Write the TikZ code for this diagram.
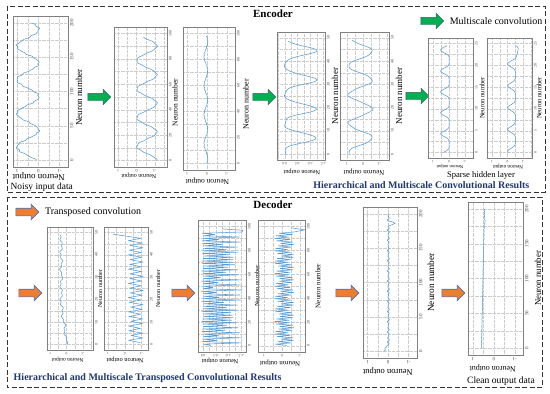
\documentclass[tikz,border=0pt]{standalone}
\usepackage{fontspec}
\setmainfont{Liberation Serif}
\usetikzlibrary{shapes.arrows,positioning}
\definecolor{curveblue}{RGB}{88,156,212}
\definecolor{arrowgreen}{RGB}{0,176,80}
\definecolor{arroworange}{RGB}{237,125,49}
\definecolor{edgeblue}{RGB}{68,114,196}
\definecolor{edgegray}{RGB}{70,90,110}
\definecolor{navy}{RGB}{31,56,110}

\begin{document}
\begin{tikzpicture}[x=1pt, y=-1pt,
    ttl/.style={font=\fontsize{11}{11}\selectfont\bfseries, inner sep=0.5pt},
    res/.style={font=\fontsize{10}{10}\selectfont\bfseries, text=navy, inner sep=0.5pt},
    txt/.style={font=\fontsize{#1}{#1}\selectfont, inner sep=0.5pt},
    ax/.style={font=\fontsize{#1}{#1}\selectfont, inner sep=0pt},
    tk/.style={font=\fontsize{#1}{#1}\selectfont, text=black!70, inner sep=0.3pt},
    frm/.style={draw=black!50, line width=0.4pt},
    grd/.style={draw=black!20, line width=0.3pt, densely dotted},
    crv/.style={draw=curveblue, line width=0.55pt, line join=round},
    dbox/.style={draw=black!80, line width=0.9pt, dash pattern=on 5pt off 2.5pt},
    garrow/.style={single arrow, draw=edgegray, fill=arrowgreen, line width=0.4pt,
                   minimum height=23pt, inner sep=3.5pt, single arrow head extend=4pt},
    oarrow/.style={single arrow, draw=edgeblue, fill=arroworange, line width=0.6pt,
                   minimum height=23pt, inner sep=3.5pt, single arrow head extend=4pt},
  ]
  \useasboundingbox (0,0) rectangle (550,394);
  \fill[white] (0,0) rectangle (550,394);

  % frames of the two stages
  \draw[dbox] (7,6) rectangle (545,192);
  \draw[dbox] (7,197) rectangle (542,387);
  \node[ttl] (enc) at (273,14) {Encoder};
  \node[ttl] (dec) at (273,205) {Decoder};

  % legends
  \node[garrow] (leggreen) at (430.5,21) {};
  \node[txt=10, right=5pt of leggreen] (legmulti) {Multiscale convolution};
  \node[oarrow] (legorange) at (25.5,212) {};
  \node[txt=10, right=5pt of legorange] (legtrans) {Transposed convolution};

  % encoder arrows
  \node[garrow] (g1) at (97.5,97) {};
  \node[garrow] (g2) at (262.5,97) {};
  \node[garrow] (g3) at (415.5,96) {};
  % decoder arrows
  \node[oarrow] (o1) at (28.5,293) {};
  \node[oarrow] (o2) at (181.5,293) {};
  \node[oarrow] (o3) at (345.5,293) {};
  \node[oarrow] (o4) at (451.5,293) {};

  % ---------- encoder panels ----------
  % noisy input
  \begin{scope}[shift={(13,167)}, x={(55pt,0pt)}, y={(0pt,151pt)}]
    \foreach \k in {0,0.5,...,4} \draw[grd] (0,{0.0455+0.2273*\k}) -- (1,{0.0455+0.2273*\k});
    \foreach \u in {0.075,0.2675,0.46,0.6525,0.845} \draw[grd] (\u,0) -- (\u,1);
    \draw[frm] (0,0) rectangle (1,1);
    \draw[crv] plot[domain=0:200, samples=181, variable=\t]
      ({0.27-0.2*cos((\t-19)/49*360)+0.012*sin(53*\t)+0.01*sin(79*\t)}, {0.0455+0.909*\t/200});
    \foreach \v [count=\c from 0] in {0,50,100,150,200}
      \node[tk=5, rotate=90, anchor=north] at ([xshift=1.5pt]1,{0.0455+0.2273*\c}) {\v};
    \foreach \v/\u in {1/0.075,0/0.46,-1/0.845}
      \node[tk=5, rotate=180, anchor=south] at ([yshift=-1.5pt]\u,0) {\v};
    \node[ax=9, rotate=90] (p1num) at ([xshift=11pt]1,0.46) {Neuron number};
    \node[ax=9, rotate=180] (p1out) at ([yshift=-9.5pt]0.47,0) {Neuron output};
  \end{scope}
  \node[txt=9.4, anchor=west] (noisy) at (10,187.5) {Noisy input data};

  % first layer, scale a
  \begin{scope}[shift={(114,167)}, x={(53pt,0pt)}, y={(0pt,140pt)}]
    \foreach \k in {0,0.5,...,5} \draw[grd] (0,{0.0455+0.1818*\k}) -- (1,{0.0455+0.1818*\k});
    \foreach \u in {0.08,0.2525,0.425,0.5975,0.77,0.9425} \draw[grd] (\u,0) -- (\u,1);
    \draw[frm] (0,0) rectangle (1,1);
    \draw[crv] plot[domain=0:97, samples=120, variable=\t]
      ({0.62+0.19*cos(\t/22.5*360)+0.01*sin(97*\t)}, {0.0455+0.909*\t/100});
    \foreach \v [count=\c from 0] in {0,20,40,60,80,100}
      \node[tk=4, rotate=90, anchor=north] at ([xshift=1.5pt]1,{0.0455+0.1818*\c}) {\v};
    \foreach \v/\u in {1/0.08,0/0.425,-1/0.77}
      \node[tk=4, rotate=180, anchor=south] at ([yshift=-1.5pt]\u,0) {\v};
    \node[ax=7.5, rotate=90] (p2num) at ([xshift=8pt]1,0.46) {Neuron number};
    \node[ax=6, rotate=180] (p2out) at ([yshift=-9pt]0.47,0) {Neuron output};
  \end{scope}

  % first layer, scale b
  \begin{scope}[shift={(183,170)}, x={(52pt,0pt)}, y={(0pt,143pt)}]
    \foreach \k in {0,0.5,...,5} \draw[grd] (0,{0.0455+0.1818*\k}) -- (1,{0.0455+0.1818*\k});
    \foreach \u in {0.08,0.27,0.46,0.65,0.84} \draw[grd] (\u,0) -- (\u,1);
    \draw[frm] (0,0) rectangle (1,1);
    \draw[crv] plot[domain=0:98, samples=120, variable=\t]
      ({0.44+0.035*sin(\t/22.5*360+30)+0.006*sin(131*\t)}, {0.0455+0.909*\t/100});
    \foreach \v [count=\c from 0] in {0,20,40,60,80,100}
      \node[tk=4, rotate=90, anchor=north] at ([xshift=1.5pt]1,{0.0455+0.1818*\c}) {\v};
    \foreach \v/\u in {1/0.08,0/0.46,-1/0.84}
      \node[tk=4, rotate=180, anchor=south] at ([yshift=-1.5pt]\u,0) {\v};
    \node[ax=8, rotate=90] (p3num) at ([xshift=11pt]1,0.46) {Neuron number};
    \node[ax=7.5, rotate=180] (p3out) at ([yshift=-11pt]0.47,0) {Neuron output};
  \end{scope}

  % second layer, scale a
  \begin{scope}[shift={(277,160)}, x={(48pt,0pt)}, y={(0pt,128pt)}]
    \foreach \k in {0,0.5,...,5} \draw[grd] (0,{0.0455+0.1818*\k}) -- (1,{0.0455+0.1818*\k});
    \foreach \u in {0.025,0.16,0.295,0.43,0.565,0.70,0.835,0.97} \draw[grd] (\u,0) -- (\u,1);
    \draw[frm] (0,0) rectangle (1,1);
    \draw[crv] plot[domain=0:48.6, samples=150, variable=\t]
      ({0.17+0.65*(0.5+0.5*cos((\t-7)/12.5*360))^2+0.015*sin(83*\t)}, {0.0455+0.909*\t/50});
    \foreach \v [count=\c from 0] in {0,10,20,30,40,50}
      \node[tk=4, rotate=90, anchor=north] at ([xshift=1.5pt]1,{0.0455+0.1818*\c}) {\v};
    \foreach \v/\u in {0.0/0.16,-0.5/0.43,-1.0/0.70,-1.5/0.97}
      \node[tk=3.5, rotate=180, anchor=south] at ([yshift=-1.5pt]\u,0) {\v};
    \node[ax=9, rotate=90] (p4num) at ([xshift=10pt]1,0.5) {Neuron number};
    \node[ax=6.3, rotate=180] (p4out) at ([yshift=-12pt]0.52,0) {Neuron output};
  \end{scope}

  % second layer, scale b
  \begin{scope}[shift={(340,160)}, x={(49pt,0pt)}, y={(0pt,128pt)}]
    \foreach \k in {0,0.5,...,5} \draw[grd] (0,{0.0455+0.1818*\k}) -- (1,{0.0455+0.1818*\k});
    \foreach \u in {0.14,0.305,0.47,0.635,0.80,0.965} \draw[grd] (\u,0) -- (\u,1);
    \draw[frm] (0,0) rectangle (1,1);
    \draw[crv] plot[domain=0:49, samples=150, variable=\t]
      ({0.17+0.49*(0.5+0.5*cos((\t-7)/12.4*360))+0.015*sin(97*\t)}, {0.0455+0.909*\t/50});
    \foreach \v [count=\c from 0] in {0,10,20,30,40,50}
      \node[tk=4, rotate=90, anchor=north] at ([xshift=1.5pt]1,{0.0455+0.1818*\c}) {\v};
    \foreach \v/\u in {1/0.14,0/0.47,-1/0.80}
      \node[tk=4, rotate=180, anchor=south] at ([yshift=-1.5pt]\u,0) {\v};
    \node[ax=9, rotate=90] (p5num) at ([xshift=10pt]1,0.5) {Neuron number};
    \node[ax=7, rotate=180] (p5out) at ([yshift=-12pt]0.49,0) {Neuron output};
  \end{scope}

  % sparse hidden layer, scale a
  \begin{scope}[shift={(428,158)}, x={(45pt,0pt)}, y={(0pt,120pt)}]
    \foreach \k in {0,0.5,...,5} \draw[grd] (0,{0.0455+0.1818*\k}) -- (1,{0.0455+0.1818*\k});
    \foreach \u in {0.11,0.2875,0.465,0.6425,0.82} \draw[grd] (\u,0) -- (\u,1);
    \draw[frm] (0,0) rectangle (1,1);
    \draw[crv] plot[domain=0:24.5, samples=150, variable=\t]
      ({0.47-0.19*(0.5+0.5*cos((\t-4.3)/4.8*360))^3}, {0.0455+0.909*\t/25});
    \foreach \v [count=\c from 0] in {0,5,10,15,20,25}
      \node[tk=4, rotate=90, anchor=north] at ([xshift=1.5pt]1,{0.0455+0.1818*\c}) {\v};
    \foreach \v/\u in {1/0.11,0/0.465,-1/0.82}
      \node[tk=3.5, rotate=180, anchor=south] at ([yshift=-1.5pt]\u,0) {\v};
    \node[ax=6.6, rotate=90] (p6num) at ([xshift=9pt]1,0.5) {Neuron number};
    \node[ax=4.6, rotate=180] (p6out) at ([yshift=-9pt]0.49,0) {Neuron output};
  \end{scope}

  % sparse hidden layer, scale b
  \begin{scope}[shift={(487,158)}, x={(45pt,0pt)}, y={(0pt,120pt)}]
    \foreach \k in {0,0.5,...,5} \draw[grd] (0,{0.0455+0.1818*\k}) -- (1,{0.0455+0.1818*\k});
    \foreach \u in {0.11,0.2825,0.455,0.6275,0.80,0.9725} \draw[grd] (\u,0) -- (\u,1);
    \draw[frm] (0,0) rectangle (1,1);
    \draw[crv] plot[domain=0:24.5, samples=150, variable=\t]
      ({0.63-0.17*(0.5+0.5*cos((\t-5.3)/5*360))^3+0.025*(\t>21)*(\t-21)}, {0.0455+0.909*\t/25});
    \foreach \v [count=\c from 0] in {0,5,10,15,20,25}
      \node[tk=4, rotate=90, anchor=north] at ([xshift=1.5pt]1,{0.0455+0.1818*\c}) {\v};
    \foreach \v/\u in {1/0.11,0/0.455,-1/0.80}
      \node[tk=3.5, rotate=180, anchor=south] at ([yshift=-1.5pt]\u,0) {\v};
    \node[ax=6.6, rotate=90] (p7num) at ([xshift=7pt]1,0.5) {Neuron number};
    \node[ax=5.2, rotate=180] (p7out) at ([yshift=-9pt]0.47,0) {Neuron output};
  \end{scope}
  \node[txt=8.6] (sparse) at (481,175) {Sparse hidden layer};
  \node[res, anchor=east] (encres) at (530,185) {Hierarchical and Multiscale Convolutional Results};

  % ---------- decoder panels ----------
  % first transposed layer, scale a
  \begin{scope}[shift={(47,350)}, x={(46pt,0pt)}, y={(0pt,123pt)}]
    \foreach \k in {0,0.5,...,5} \draw[grd] (0,{0.0455+0.1818*\k}) -- (1,{0.0455+0.1818*\k});
    \foreach \u in {0.07,0.2475,0.425,0.6025,0.78,0.9575} \draw[grd] (\u,0) -- (\u,1);
    \draw[frm] (0,0) rectangle (1,1);
    \draw[crv] plot[domain=0:49, samples=130, variable=\t]
      ({0.31+0.12*max(0,1-\t/18)+0.02*sin(51*\t)+0.015*sin(137*\t)}, {0.0455+0.909*\t/50});
    \foreach \v [count=\c from 0] in {0,10,20,30,40,50}
      \node[tk=4, rotate=90, anchor=north] at ([xshift=1.5pt]1,{0.0455+0.1818*\c}) {\v};
    \foreach \v/\u in {1/0.07,0/0.425,-1/0.78}
      \node[tk=3.5, rotate=180, anchor=south] at ([yshift=-1.5pt]\u,0) {\v};
    \node[ax=6, rotate=90] (p8num) at ([xshift=7pt]1,0.5) {Neuron number};
    \node[ax=5.5, rotate=180] (p8out) at ([yshift=-10pt]0.45,0) {Neuron output};
  \end{scope}

  % first transposed layer, scale b
  \begin{scope}[shift={(104,350)}, x={(44pt,0pt)}, y={(0pt,123pt)}]
    \foreach \k in {0,0.5,...,5} \draw[grd] (0,{0.0455+0.1818*\k}) -- (1,{0.0455+0.1818*\k});
    \foreach \u in {0.09,0.28,0.47,0.66,0.85} \draw[grd] (\u,0) -- (\u,1);
    \draw[frm] (0,0) rectangle (1,1);
    \draw[crv] plot[domain=0:44, samples=45, variable=\t]
      ({0.72+cos(180*\t)*(0.1+0.07*abs(sin(61*\t)))}, {0.0455+0.909*(0.8+1.06*\t)/50})
      -- (0.2,{0.0455+0.909*49.3/50});
    \foreach \v [count=\c from 0] in {0,10,20,30,40,50}
      \node[tk=4, rotate=90, anchor=north] at ([xshift=1.5pt]1,{0.0455+0.1818*\c}) {\v};
    \foreach \v/\u in {1/0.09,0/0.47,-1/0.85}
      \node[tk=3.5, rotate=180, anchor=south] at ([yshift=-1.5pt]\u,0) {\v};
    \node[ax=6, rotate=90] (p9num) at ([xshift=10pt]1,0.5) {Neuron number};
    \node[ax=6.4, rotate=180] (p9out) at ([yshift=-10pt]0.48,0) {Neuron output};
  \end{scope}

  % second transposed layer, scale a
  \begin{scope}[shift={(198,352)}, x={(48pt,0pt)}, y={(0pt,132pt)}]
    \foreach \k in {0,0.5,...,5} \draw[grd] (0,{0.0455+0.1818*\k}) -- (1,{0.0455+0.1818*\k});
    \foreach \u in {0.11,0.2425,0.375,0.5075,0.64,0.7725,0.905} \draw[grd] (\u,0) -- (\u,1);
    \draw[frm] (0,0) rectangle (1,1);
    \draw[crv] plot[domain=0:90, samples=91, variable=\t]
      ({0.07+0.05*abs(sin(113*\t))+(0.5+0.5*cos(180*\t))*(0.2+0.6*abs(sin(47*\t)))}, {0.0455+0.909*(0.5+1.05*\t)/100})
      -- (0.93,{0.0455+0.909*96.5/100}) -- (0.5,{0.0455+0.909*97.6/100});
    \foreach \v [count=\c from 0] in {0,20,40,60,80,100}
      \node[tk=4, rotate=90, anchor=north] at ([xshift=1.5pt]1,{0.0455+0.1818*\c}) {\v};
    \foreach \v/\u in {0.0/0.11,-0.5/0.375,-1.0/0.64,-1.5/0.905}
      \node[tk=3.5, rotate=180, anchor=south] at ([yshift=-1.5pt]\u,0) {\v};
    \node[ax=6.6, rotate=90] (p10num) at ([xshift=11pt]1,0.5) {Neuron number};
    \node[ax=6.3, rotate=180] (p10out) at ([yshift=-9pt]0.46,0) {Neuron output};
  \end{scope}

  % second transposed layer, scale b
  \begin{scope}[shift={(258,352)}, x={(47pt,0pt)}, y={(0pt,132pt)}]
    \foreach \k in {0,0.5,...,5} \draw[grd] (0,{0.0455+0.1818*\k}) -- (1,{0.0455+0.1818*\k});
    \foreach \u in {0.13,0.32,0.51,0.70,0.89} \draw[grd] (\u,0) -- (\u,1);
    \draw[frm] (0,0) rectangle (1,1);
    \draw[crv] plot[domain=0:90, samples=91, variable=\t]
      ({0.56+cos(180*\t)*(0.06+0.14*abs(sin(71*\t)))}, {0.0455+0.909*(0.5+1.05*\t)/100})
      -- (1.0,{0.0455+0.909*96.8/100}) -- (0.7,{0.0455+0.909*98.5/100});
    \foreach \v [count=\c from 0] in {0,20,40,60,80,100}
      \node[tk=4, rotate=90, anchor=north] at ([xshift=1.5pt]1,{0.0455+0.1818*\c}) {\v};
    \foreach \v/\u in {1/0.13,0/0.51,-1/0.89}
      \node[tk=3.5, rotate=180, anchor=south] at ([yshift=-1.5pt]\u,0) {\v};
    \node[ax=7, rotate=90] (p11num) at ([xshift=13pt]1,0.5) {Neuron number};
    \node[ax=6.9, rotate=180] (p11out) at ([yshift=-11pt]0.47,0) {Neuron output};
  \end{scope}

  % third transposed layer
  \begin{scope}[shift={(363,358)}, x={(54pt,0pt)}, y={(0pt,151pt)}]
    \foreach \k in {0,0.5,...,4} \draw[grd] (0,{0.0455+0.2273*\k}) -- (1,{0.0455+0.2273*\k});
    \foreach \u in {0.085,0.275,0.465,0.655,0.845} \draw[grd] (\u,0) -- (\u,1);
    \draw[frm] (0,0) rectangle (1,1);
    \draw[crv] plot[domain=0:200, samples=201, variable=\t]
      ({0.47+0.012*sin(48.5*\t)+0.01*sin(73*\t)-0.09*max(0,1-\t/10)+0.13*max(0,1-abs(\t-186)/4)}, {0.0455+0.909*\t/200});
    \foreach \v [count=\c from 0] in {0,50,100,150,200}
      \node[tk=5, rotate=90, anchor=north] at ([xshift=1.5pt]1,{0.0455+0.2273*\c}) {\v};
    \foreach \v/\u in {1/0.085,0/0.465,-1/0.845}
      \node[tk=5, rotate=180, anchor=south] at ([yshift=-1.5pt]\u,0) {\v};
    \node[ax=9.3, rotate=90] (p12num) at ([xshift=14pt]1,0.5) {Neuron number};
    \node[ax=8.6, rotate=180] (p12out) at ([yshift=-13pt]0.46,0) {Neuron output};
  \end{scope}

  % clean output
  \begin{scope}[shift={(468,355)}, x={(55pt,0pt)}, y={(0pt,153pt)}]
    \foreach \k in {0,0.5,...,4} \draw[grd] (0,{0.0455+0.2273*\k}) -- (1,{0.0455+0.2273*\k});
    \foreach \u in {0.09,0.28,0.47,0.66,0.85} \draw[grd] (\u,0) -- (\u,1);
    \draw[frm] (0,0) rectangle (1,1);
    \draw[crv] plot[domain=0:200, samples=161, variable=\t]
      ({0.245+0.055*\t/200+0.004*sin(67*\t)+0.02*max(0,1-abs(\t-182)/4)}, {0.0455+0.909*\t/200});
    \foreach \v [count=\c from 0] in {0,50,100,150,200}
      \node[tk=5, rotate=90, anchor=north] at ([xshift=1.5pt]1,{0.0455+0.2273*\c}) {\v};
    \foreach \v/\u in {1/0.09,0/0.47,-1/0.85}
      \node[tk=5, rotate=180, anchor=south] at ([yshift=-1.5pt]\u,0) {\v};
    \node[ax=8.7, rotate=90] (p13num) at ([xshift=15pt]1,0.5) {Neuron number};
    \node[ax=8, rotate=180] (p13out) at ([yshift=-13pt]0.45,0) {Neuron output};
  \end{scope}
  \node[txt=9.6] (clean) at (501,381) {Clean output data};
  \node[res, anchor=west] (decres) at (13,378) {Hierarchical and Multiscale Transposed Convolutional Results};
\end{tikzpicture}
\end{document}
